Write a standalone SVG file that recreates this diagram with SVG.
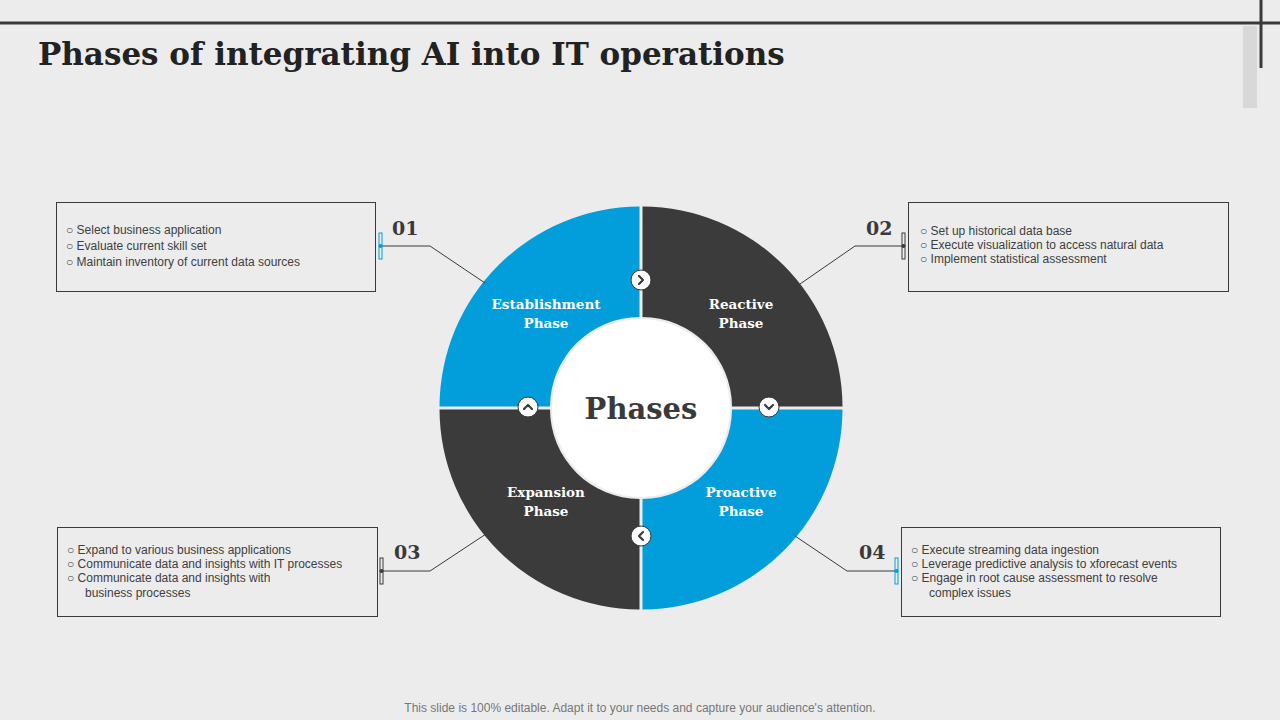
<svg xmlns="http://www.w3.org/2000/svg" width="1280" height="720" viewBox="0 0 1280 720">
<style>
.box{fill:none;stroke:#3a3a3a;stroke-width:1}
.bt{font-family:"Liberation Sans",Arial,sans-serif;font-size:12px;fill:#404040}
.num{font-family:"DejaVu Serif",serif;font-weight:bold;font-size:19px;fill:#3a3a3a}
.ph{font-family:"DejaVu Serif",serif;font-weight:bold;font-size:13.5px;fill:#fff;text-anchor:middle}
.ln{fill:none;stroke:#3a3a3a;stroke-width:1}
.dot{fill:#fff;stroke:#3a3a3a;stroke-width:1}
.chev{fill:none;stroke:#3a3a3a;stroke-width:2.2;stroke-linecap:round;stroke-linejoin:round}
</style>
<rect width="1280" height="720" fill="#ececec"/>
<line x1="0" y1="23" x2="1280" y2="23" stroke="#3a3a3a" stroke-width="3"/>
<line x1="1261" y1="0" x2="1261" y2="68" stroke="#3a3a3a" stroke-width="3"/>
<rect x="1243" y="26" width="14" height="82" fill="#d8d8d8"/>
<text x="38" y="65" font-family="DejaVu Serif,serif" font-weight="bold" font-size="31" fill="#222">Phases of integrating AI into IT operations</text>
<g id="wheel">
<path d="M639.5 206.5 A201 201 0 0 0 439.5 406.5 L550 406.5 A90 90 0 0 1 639.5 317 Z" fill="#029ddb"/>
<path d="M642.5 206.5 A201 201 0 0 1 842.5 406.5 L732 406.5 A90 90 0 0 0 642.5 317 Z" fill="#3b3b3b"/>
<path d="M639.5 609.5 A201 201 0 0 1 439.5 409.5 L550 409.5 A90 90 0 0 0 639.5 499 Z" fill="#3b3b3b"/>
<path d="M642.5 609.5 A201 201 0 0 0 842.5 409.5 L732 409.5 A90 90 0 0 1 642.5 499 Z" fill="#029ddb"/>
<circle cx="641" cy="408" r="89" fill="#fff"/>
<text x="641" y="419" text-anchor="middle" font-family="DejaVu Serif,serif" font-weight="bold" font-size="29" fill="#3a3a3a">Phases</text>
<text class="ph" x="546" y="309">Establishment</text><text class="ph" x="546" y="328">Phase</text>
<text class="ph" x="741" y="309">Reactive</text><text class="ph" x="741" y="328">Phase</text>
<text class="ph" x="546" y="497">Expansion</text><text class="ph" x="546" y="516">Phase</text>
<text class="ph" x="741" y="497">Proactive</text><text class="ph" x="741" y="516">Phase</text>
<circle class="dot" cx="641" cy="280" r="10"/><path class="chev" d="M639 276 L643 280 L639 284"/>
<circle class="dot" cx="769" cy="407" r="10"/><path class="chev" d="M765 405 L769 409 L773 405"/>
<circle class="dot" cx="641" cy="536" r="10"/><path class="chev" d="M643 532 L639 536 L643 540"/>
<circle class="dot" cx="528" cy="407" r="10"/><path class="chev" d="M524 409 L528 405 L532 409"/>
</g>
<g id="connectors">
<polyline class="ln" points="380,246 430,246 485,283"/>
<polyline class="ln" points="904,246 855,246 800,284"/>
<polyline class="ln" points="381,571 430,571 486,534"/>
<polyline class="ln" points="897,571 847,571 795,536"/>
<g fill="none" stroke-width="1">
<rect x="379" y="233" width="3" height="26" stroke="#029ddb"/><circle cx="380.5" cy="246" r="2" fill="#029ddb"/>
<rect x="902" y="233" width="3" height="26" stroke="#3a3a3a"/><circle cx="903.5" cy="246" r="2" fill="#3a3a3a"/>
<rect x="380" y="558" width="3" height="26" stroke="#3a3a3a"/><circle cx="381.5" cy="571" r="2" fill="#3a3a3a"/>
<rect x="895" y="558" width="3" height="26" stroke="#029ddb"/><circle cx="896.5" cy="571" r="2" fill="#029ddb"/>
</g>
</g>
<g id="box1">
<rect class="box" x="56.5" y="202.5" width="319" height="89"/>
<text class="num" x="392" y="235">01</text>
<text class="bt" x="66" y="234">○ Select business application</text>
<text class="bt" x="66" y="250">○ Evaluate current skill set</text>
<text class="bt" x="66" y="266">○ Maintain inventory of current data sources</text>
</g>
<g id="box2">
<rect class="box" x="908.5" y="202.5" width="320" height="89"/>
<text class="num" x="866" y="235">02</text>
<text class="bt" x="920" y="235">○ Set up historical data base</text>
<text class="bt" x="920" y="249">○ Execute visualization to access natural data</text>
<text class="bt" x="920" y="263">○ Implement statistical assessment</text>
</g>
<g id="box3">
<rect class="box" x="57.5" y="527.5" width="320" height="89"/>
<text class="num" x="394" y="559">03</text>
<text class="bt" x="67" y="554">○ Expand to various business applications</text>
<text class="bt" x="67" y="568">○ Communicate data and insights with IT processes</text>
<text class="bt" x="67" y="582">○ Communicate data and insights with</text>
<text class="bt" x="85" y="597">business processes</text>
</g>
<g id="box4">
<rect class="box" x="901.5" y="527.5" width="319" height="89"/>
<text class="num" x="859" y="559">04</text>
<text class="bt" x="911" y="554">○ Execute streaming data ingestion</text>
<text class="bt" x="911" y="568">○ Leverage predictive analysis to xforecast events</text>
<text class="bt" x="911" y="582">○ Engage in root cause assessment to resolve</text>
<text class="bt" x="929" y="597">complex issues</text>
</g>
<text x="640" y="712" text-anchor="middle" font-family="Liberation Sans,Arial,sans-serif" font-size="12" fill="#777">This slide is 100% editable. Adapt it to your needs and capture your audience's attention.</text>
</svg>
